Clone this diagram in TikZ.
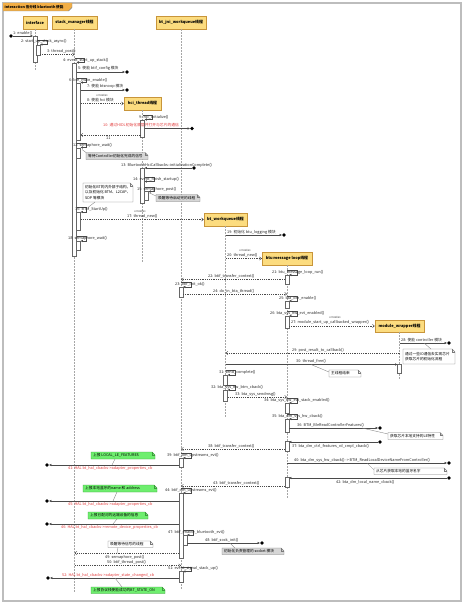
\documentclass[tikz,border=0pt]{standalone}
\usepackage{fontspec}
\setmainfont{Noto Sans CJK SC}
\usetikzlibrary{arrows.meta}
\definecolor{hdrfill}{HTML}{FCDC7F}
\definecolor{hdrdraw}{HTML}{C8953A}
\definecolor{tabfill}{HTML}{F2AE45}
\definecolor{linec}{HTML}{4A4A4A}
\definecolor{redlbl}{HTML}{E23B3B}
\definecolor{greenfill}{HTML}{6EEE6E}
\definecolor{greendraw}{HTML}{3C9A3C}
\definecolor{grayfill}{HTML}{D6D6D6}
\definecolor{notedraw}{HTML}{7A7A7A}
\definecolor{framec}{HTML}{BDBDBD}
\newcommand\msgline[5]{\coordinate (#1s) at ({#3},{#5});\coordinate (#1e) at ({#4},{#5});\draw[#2] (#1s) -- (#1e);}
\newcommand\selfloop[4]{\coordinate (#1s) at ({#2},{#4});\coordinate (#1e) at ({#3},{#4+4.5});\draw[msg] (#1s) -- ++(10,0) |- (#1e);}
\newcommand\lostmsg[4]{\coordinate (#1s) at ({#2},{#4});\node[fdot] (#1e) at ({#3},{#4}) {};\draw[msg] (#1s) -- (#1e);}
\newcommand\foundmsg[4]{\node[fdot] (#1s) at ({#2},{#4}) {};\coordinate (#1e) at ({#3},{#4});\draw[msg] (#1s) -- (#1e);}
\newcommand\actbar[5]{\coordinate (#1a) at ({#2},{#3});\coordinate (#1b) at ({#4},{#5});\draw[barst] (#1a) rectangle (#1b);}
\newcommand\notebox[7]{\coordinate (#1a) at ({#2},{#3});\coordinate (#1b) at ({#4},{#5});
 \draw[#6] (#1a) -- ({#4-3},{#3}) -- ({#4},{#3+3}) -- ({#4},{#5}) -- ({#2},{#5}) -- cycle;
 \draw[#6,fill=none] ({#4-3},{#3}) -- ({#4-3},{#3+3}) -- ({#4},{#3+3});
 \node[ntxt] (#1) at ({#2+2},{(#3+#5)/2}) {#7};}
\newcommand\nlinkto[5]{\coordinate (#1p) at ({#2},{#3});\coordinate (#1q) at ({#4},{#5});\draw[nlink] (#1p) -- (#1q);}
\tikzset{
 lbl/.style={font=\fontsize{3.8}{4.4}\selectfont, inner sep=0pt, anchor=base west, text=black!85},
 rlbl/.style={lbl, text=redlbl},
 crt/.style={font=\fontsize{3.1}{3.5}\selectfont, inner sep=0pt, anchor=base, text=black!75},
 msg/.style={draw=linec, line width=0.45pt, -{Triangle[length=2.4pt,width=2.2pt]}},
 amsg/.style={draw=linec, line width=0.45pt, dash pattern=on 1.2pt off 1pt, -{Straight Barb[length=2pt,width=3.2pt]}},
 fdot/.style={circle, fill=black, inner sep=0pt, minimum size=3.6pt},
 lifel/.style={draw=gray!70, line width=0.4pt, dash pattern=on 1.5pt off 1.5pt},
 barst/.style={draw=gray!80!black, fill=white, line width=0.4pt},
 hdr/.style={draw=hdrdraw, fill=hdrfill, line width=0.5pt, font=\bfseries\fontsize{3.9}{4.5}\selectfont, inner sep=0pt},
 wnote/.style={draw=notedraw, fill=white, line width=0.4pt},
 gnote/.style={draw=notedraw, fill=grayfill, line width=0.4pt},
 grnote/.style={draw=greendraw, fill=greenfill, line width=0.4pt},
 nlink/.style={draw=gray, line width=0.35pt},
 ntxt/.style={font=\fontsize{3.7}{5.3}\selectfont, inner sep=0pt, anchor=west, align=left},
}
\begin{document}
\begin{tikzpicture}[x=1pt,y=-1pt]
\useasboundingbox (0,0) rectangle (474,615);
% frame
\draw[framec, line width=1.2pt] (3,3) rectangle (461,601);
\fill[tabfill] (3,3) -- (72,3) -- (72,7.5) -- (68.5,11) -- (3,11) -- cycle;
\draw[gray, line width=0.4pt] (72,3) -- (72,7.5) -- (68.5,11) -- (3,11);
\node[font=\bfseries\fontsize{3.6}{4}\selectfont, anchor=west, inner sep=0pt] (ttl) at (4.5,7) {interaction 各分线 bluetooth 使能};
% participants
\node[hdr, minimum width=24pt, minimum height=13pt] (pIF) at (35,22.5) {interface};
\node[hdr, minimum width=45pt, minimum height=13pt] (pSM) at (74.5,22.5) {stack\_manager线程};
\node[hdr, minimum width=50pt, minimum height=13pt] (pJNI) at (181,22.5) {bt\_jni\_workqueue线程};
\node[hdr, minimum width=37pt, minimum height=13pt] (pHCI) at (142.5,103.5) {hci\_thread线程};
\node[hdr, minimum width=43pt, minimum height=13pt] (pWQ) at (225.5,219.5) {bt\_workqueue线程};
\node[hdr, minimum width=50pt, minimum height=13pt] (pBTU) at (287,258.5) {btu message loop线程};
\node[hdr, minimum width=49pt, minimum height=12pt] (pMW) at (399.5,326) {module\_wrapper线程};
% lifelines
\coordinate (eIF) at (35,70);
\coordinate (eSM) at (74.5,592);
\coordinate (eJNI) at (181,590);
\coordinate (eHCI) at (142.5,263);
\coordinate (eWQ) at (225.5,418);
\coordinate (eBTU) at (287,498);
\coordinate (eMW) at (399.5,379);
\draw[lifel] (pIF) -- (eIF);
\draw[lifel] (pSM) -- (eSM);
\draw[lifel] (pJNI) -- (eJNI);
\draw[lifel] (pHCI) -- (eHCI);
\draw[lifel] (pWQ) -- (eWQ);
\draw[lifel] (pBTU) -- (eBTU);
\draw[lifel] (pMW) -- (eMW);
% activation bars
\actbar{I1}{33}{36}{37}{62}
\actbar{I2}{36}{45}{40}{55}
\actbar{S1}{72.5}{63}{76.5}{256}
\actbar{S2}{76.5}{83}{80.5}{140}
\actbar{S3}{76.5}{148}{80.5}{158}
\actbar{S4}{76.5}{212}{80.5}{230}
\actbar{S5}{76.5}{241}{80.5}{250}
\actbar{H1}{140.5}{120}{144.5}{137}
\actbar{H2}{140.5}{168}{144.5}{203}
\actbar{H3}{144.5}{191.5}{148.5}{200}
\actbar{W1}{223.5}{375}{227.5}{385}
\actbar{W2}{223.5}{390}{227.5}{401}
\actbar{B1}{285}{275}{289}{284}
\actbar{B2}{285}{301}{289}{308}
\actbar{B3}{285}{316}{289}{328}
\actbar{B4}{285}{403}{289}{413}
\actbar{B5}{285}{419}{289}{432}
\actbar{B6}{285}{441}{289}{451}
\actbar{B7}{285}{477}{289}{487}
\actbar{J1}{179}{287}{183}{297}
\actbar{J2}{179}{458}{183}{467}
\actbar{J3}{179}{493}{183}{558}
\actbar{J4}{183}{535}{187}{545}
\actbar{J5}{179}{571}{183}{582}
\actbar{M1}{397.5}{364}{401.5}{373}
% messages
\foundmsg{m1}{11}{33}{36}
\selfloop{m2}{37}{40}{40}
\msgline{m3}{amsg}{40}{74.5}{54.5}
\selfloop{m4}{74.5}{76.5}{58}
\lostmsg{m5}{76.5}{127}{72}
\selfloop{m6}{76.5}{80.5}{78}
\lostmsg{m7}{80.5}{127}{90}
\coordinate (m8s) at (80.5,103.5); \draw[amsg] (m8s) -- (pHCI.west);
\selfloop{m9}{142.5}{144.5}{115}
\lostmsg{m10}{144.5}{192}{128.5}
\msgline{m11}{amsg}{140.5}{80.5}{135}
\selfloop{m12}{76.5}{80.5}{143}
\foundmsg{m13}{194}{144.5}{168}
\selfloop{m14}{144.5}{144.5}{177}
\selfloop{m15}{144.5}{148.5}{187}
\selfloop{m16}{76.5}{80.5}{207.5}
\coordinate (m17s) at (80.5,219.5); \draw[amsg] (m17s) -- (pWQ.west);
\selfloop{m18}{76.5}{80.5}{236.5}
\lostmsg{m19}{225.5}{284}{235}
\coordinate (m20s) at (225.5,258.5); \draw[amsg] (m20s) -- (pBTU.west);
\selfloop{m21}{287}{289}{270.5}
\msgline{m22}{amsg}{285}{181}{279.5}
\selfloop{m23}{181}{183}{282.5}
\msgline{m24}{amsg}{183}{287}{294}
\selfloop{m25}{287}{289}{296.5}
\selfloop{m26}{287}{289}{311.5}
\coordinate (m27s) at (289,326); \draw[amsg] (m27s) -- (pMW.west);
\lostmsg{m28}{399.5}{449}{343}
\msgline{m29}{amsg}{399.5}{225.5}{353}
\msgline{m30}{msg}{225.5}{397.5}{364.5}
\selfloop{m31}{225.5}{227.5}{370.5}
\selfloop{m32}{225.5}{227.5}{385.5}
\msgline{m33}{amsg}{227.5}{287}{397}
\selfloop{m34}{287}{289}{398.5}
\selfloop{m35}{287}{289}{414.5}
\lostmsg{m36}{289}{380}{428}
\foundmsg{m37}{380}{289}{442}
\msgline{m38}{amsg}{285}{181}{449}
\selfloop{m39}{181}{183}{453.5}
\lostmsg{m40}{287}{449}{463}
\lostmsg{m41}{179}{47}{465}
\foundmsg{m42}{449}{289}{478}
\msgline{m43}{amsg}{285}{181}{486}
\selfloop{m44}{181}{183}{488.5}
\lostmsg{m45}{179}{47}{501}
\lostmsg{m46}{179}{47}{524}
\selfloop{m47}{183}{187}{530.5}
\lostmsg{m48}{187}{262}{543}
\msgline{m49}{amsg}{179}{74.5}{553}
\msgline{m50}{amsg}{74.5}{181}{565.5}
\selfloop{m51}{181}{183}{567}
\lostmsg{m52}{179}{48}{578}
% notes
\notebox{n1}{86}{152.5}{148}{159.5}{gnote}{等待Controller初始化完成的信号}
\nlinkto{k1}{82}{149.5}{86}{152.5}
\notebox{n2}{156}{194.5}{200}{201.5}{gnote}{唤醒等待启动完的线程}
\nlinkto{k2}{148.5}{192.5}{156}{196}
\notebox{n3}{83}{183}{133}{202}{wnote}{初始化BT的内外部子结构，\\以及初始化 BTM、L2CAP、\\SDP 等模块}
\nlinkto{k3}{95}{202}{88}{207.5}
\notebox{n4}{403}{349}{455}{364}{wnote}{通过一些IO通信去实现芯片\\获取芯片的初始化流程}
\nlinkto{k4}{424}{343}{431}{349}
\notebox{n5}{329}{370}{361}{377}{wnote}{主线程结束}
\nlinkto{k5}{311}{364.5}{329}{372}
\notebox{n6}{388}{432.5}{443}{439.5}{wnote}{获取芯片本地支持的LE特性}
\nlinkto{k6}{362}{428}{388}{434}
\notebox{n7}{374}{468}{447}{474.5}{wnote}{从芯片获取本地的蓝牙名字}
\nlinkto{k7}{367}{463}{374}{470}
\notebox{n8}{91}{452}{155}{459}{grnote}{上报 LOCAL\_LE\_FEATURES}
\nlinkto{k8}{115}{459}{112}{465}
\notebox{n9}{83}{485}{157}{492}{grnote}{上报本地蓝牙的name 和 address}
\nlinkto{k9}{117}{492}{113}{501}
\notebox{n10}{88}{512}{148}{519}{grnote}{上报已配对的远端设备的信息}
\nlinkto{k10}{117}{519}{113}{524}
\notebox{n11}{108}{541}{153}{547.5}{wnote}{唤醒等待信号的线程}
\nlinkto{k11}{118}{547.5}{117}{553}
\notebox{n12}{222}{548}{284}{554.5}{gnote}{初始化负责管理的 socket 模块}
\nlinkto{k12}{230}{543}{235}{548}
\notebox{n13}{91}{587}{165}{593.5}{grnote}{上报协议栈使能成功的BT\_STATE\_ON}
\nlinkto{k13}{115}{578}{122}{587}
% labels
\node[lbl] (l1) at (13,34.5) {1: enable()};
\node[lbl] (l2) at (21,43) {2: start\_up\_stack\_async()};
\node[lbl] (l3) at (47,52.5) {3: thread\_post()};
\node[lbl] (l4) at (63,61.5) {4: event\_start\_up\_stack()};
\node[lbl] (l5) at (78,70) {5: 使能 btif\_config 模块};
\node[lbl] (l6) at (69,81.5) {6: bte\_main\_enable()};
\node[lbl] (l7) at (87,88) {7: 使能 btsnoop 模块};
\node[crt] (c8) at (102,96.5) {«create»};
\node[lbl] (l8) at (87,101.5) {8: 使能 hci 模块};
\node[lbl] (l9) at (139,118.5) {9: hci\_initialize()};
\node[rlbl] (l10) at (103,126.5) {10: 通过HIDL初始化底层并打开与芯片的通信};
\node[lbl] (l11) at (106,139.5) {11};
\node[lbl] (l12) at (73,146.5) {12: semaphore\_wait()};
\node[lbl] (l13) at (121,166) {13: BluetoothHciCallbacks::initializationComplete()};
\node[lbl] (l14) at (133,180.5) {14: event\_finish\_startup()};
\node[lbl] (l15) at (137,190.5) {15: semaphore\_post()};
\node[lbl] (l16) at (75,210.5) {16: BTM\_StartUp()};
\node[crt] (c17) at (140,212.5) {«create»};
\node[lbl] (l17) at (127,217.5) {17: thread\_new()};
\node[lbl] (l18) at (68,239.5) {18: semaphore\_wait()};
\node[lbl] (l19) at (227,233.5) {19: 初始化 btu\_logging 模块};
\node[crt] (c20) at (245,251.5) {«create»};
\node[lbl] (l20) at (227,256.5) {20: thread\_new()};
\node[lbl] (l21) at (272,273.5) {21: btu\_message\_loop\_run()};
\node[lbl] (l22) at (208,277.5) {22: btif\_transfer\_context()};
\node[lbl] (l23) at (175,285.5) {23: btif\_init\_ok()};
\node[lbl] (l24) at (213,292) {24: do\_in\_bta\_thread()};
\node[lbl] (l25) at (279,299.5) {25: bta\_dm\_enable()};
\node[lbl] (l26) at (270,314.5) {26: bta\_sys\_hw\_evt\_enabled()};
\node[crt] (c27) at (335,318) {«create»};
\node[lbl] (l27) at (291,323.5) {27: module\_start\_up\_callbacked\_wrapper()};
\node[lbl] (l28) at (401,341) {28: 使能 controller 模块};
\node[lbl] (l29) at (292,351) {29: post\_result\_to\_callback()};
\node[lbl] (l30) at (296,362.5) {30: thread\_free()};
\node[lbl] (l31) at (219,373.5) {31: send\_complete()};
\node[lbl] (l32) at (211,388.5) {32: bta\_sys\_hw\_btm\_cback()};
\node[lbl] (l33) at (235,395) {33: bta\_sys\_sendmsg()};
\node[lbl] (l34) at (264,401.5) {34: bta\_sys\_hw\_evt\_stack\_enabled()};
\node[lbl] (l35) at (272,417.5) {35: bta\_dm\_sys\_hw\_cback()};
\node[lbl] (l36) at (297,426) {36: BTM\_BleReadControllerFeatures()};
\node[lbl] (l37) at (292,447) {37: bta\_dm\_ctrl\_features\_rd\_cmpl\_cback()};
\node[lbl] (l38) at (208,447) {38: btif\_transfer\_context()};
\node[lbl] (l39) at (167,456.5) {39: btif\_dm\_upstreams\_evt()};
\node[lbl] (l40) at (294,461) {40: bta\_dm\_sys\_hw\_cback() -> BTM\_ReadLocalDeviceNameFromController()};
\node[rlbl] (l41) at (68,469.5) {41: HAL bt\_hal\_cbacks->adapter\_properties\_cb};
\node[lbl] (l42) at (336,483) {42: bta\_dm\_local\_name\_cback()};
\node[lbl] (l43) at (213,484) {43: btif\_transfer\_context()};
\node[lbl] (l44) at (165,491.5) {44: btif\_dm\_upstreams\_evt()};
\node[rlbl] (l45) at (68,505.5) {45: HAL bt\_hal\_cbacks->adapter\_properties\_cb};
\node[rlbl] (l46) at (61,528.5) {46: HAL bt\_hal\_cbacks->remote\_device\_properties\_cb};
\node[lbl] (l47) at (168,533.5) {47: btif\_enable\_bluetooth\_evt()};
\node[lbl] (l48) at (205,541) {48: btif\_sock\_init()};
\node[lbl] (l49) at (105,558.5) {49: semaphore\_post()};
\node[lbl] (l50) at (107,563.5) {50: btif\_thread\_post()};
\node[lbl] (l51) at (168,569.5) {51: event\_signal\_stack\_up()};
\node[rlbl] (l52) at (62,576.5) {52: HAL bt\_hal\_cbacks->adapter\_state\_changed\_cb};
\end{tikzpicture}
\end{document}
